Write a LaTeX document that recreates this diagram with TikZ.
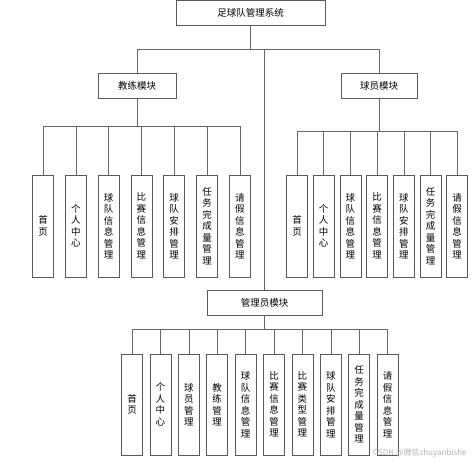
\documentclass[tikz,border=0pt]{standalone}
\usepackage{fontspec}
\setmainfont{Noto Sans CJK SC}
\usepackage{tikz}

\tikzset{
    box/.style={draw=black!65, line width=0.6pt, fill=white, inner sep=0pt,
        font=\fontsize{9.5}{11.5}\selectfont},
    leaf/.style={box, minimum width=21pt, minimum height=102pt, align=center},
    link/.style={draw=black!60, line width=0.6pt}
}

\begin{document}
\begin{tikzpicture}[x=1pt,y=-1pt]
    \useasboundingbox (0,0) rectangle (474,462);

    % Верхний уровень
    \node[box, minimum width=149pt, minimum height=24.5pt] (sys) at (250.5,12.75) {足球队管理系统};
    \node[box, minimum width=78pt, minimum height=25pt] (coach) at (137,85.5) {教练模块};
    \node[box, minimum width=76pt, minimum height=25pt] (player) at (379,85.5) {球员模块};
    \node[box, minimum width=115pt, minimum height=25pt] (admin) at (264.5,302.5) {管理员模块};

    \coordinate (tbus) at (250.5,49);
    \draw[link] (sys.south) -- (tbus) -| (coach.north);
    \draw[link] (tbus) -| (player.north);
    \draw[link] (tbus) -| (admin.north);

    %教练模块
    \coordinate (cbus) at (137,126);
    \foreach \t [count=\i from 0] in {{首\\页}, {个\\人\\中\\心}, {球\\队\\信\\息\\管\\理},
            {比\\赛\\信\\息\\管\\理}, {球\\队\\安\\排\\管\\理},
            {任\\务\\完\\成\\量\\管\\理}, {请\\假\\信\\息\\管\\理}} {
        \node[leaf] (c\i) at (43+32.8*\i,226) {\t};
        \draw[link] (coach.south) -- (cbus) -| (c\i.north);
    }

    % Игроки
    \coordinate (pbus) at (379,131);
    \foreach \t [count=\i from 0] in {{首\\页}, {个\\人\\中\\心}, {球\\队\\信\\息\\管\\理},
            {比\\赛\\信\\息\\管\\理}, {球\\队\\安\\排\\管\\理},
            {任\\务\\完\\成\\量\\管\\理}, {请\\假\\信\\息\\管\\理}} {
        \node[leaf] (p\i) at (297+26.7*\i,226) {\t};
        \draw[link] (player.south) -- (pbus) -| (p\i.north);
    }

    % Администратор
    \coordinate (abus) at (264.5,329);
    \foreach \t [count=\i from 0] in {{首\\页}, {个\\人\\中\\心}, {球\\员\\管\\理},
            {教\\练\\管\\理}, {球\\队\\信\\息\\管\\理}, {比\\赛\\信\\息\\管\\理},
            {比\\赛\\类\\型\\管\\理}, {球\\队\\安\\排\\管\\理},
            {任\\务\\完\\成\\量\\管\\理}, {请\\假\\信\\息\\管\\理}} {
        \node[leaf, minimum height=101pt] (a\i) at (132+28.4*\i,404.5) {\t};
        \draw[link] (admin.south) -- (abus) -| (a\i.north);
    }

    \node[text=black!30, font=\fontsize{8}{9}\selectfont, anchor=west, inner sep=0pt] (mark) at (373,453) {CSDN @微信zhuyanbishe};
\end{tikzpicture}
\end{document}
